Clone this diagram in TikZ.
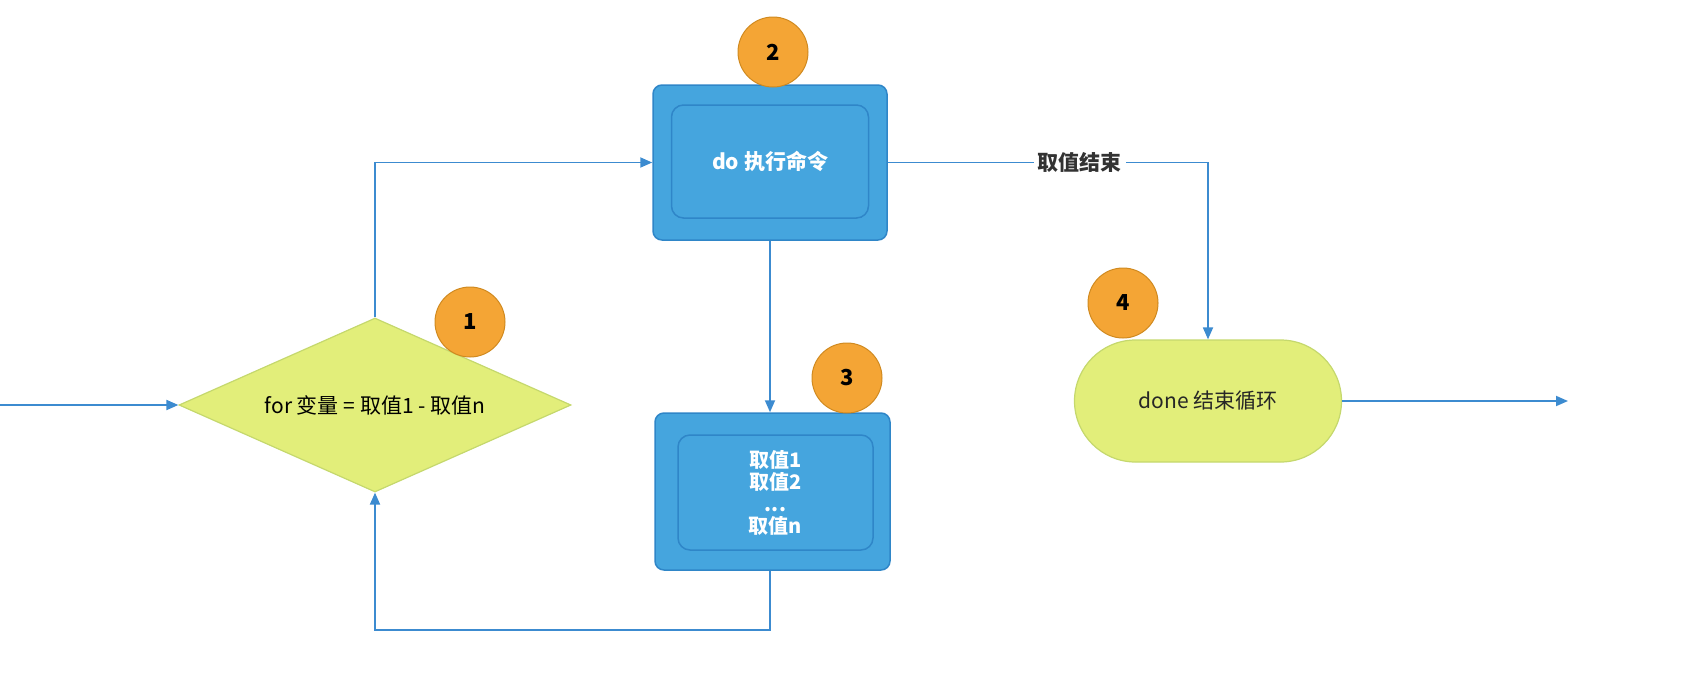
\documentclass[tikz,border=0pt]{standalone}
\usepackage{fontspec}
\setmainfont{Noto Sans CJK SC}
\usetikzlibrary{shapes.geometric,shapes.misc,arrows.meta}
\definecolor{ln}{HTML}{3C8BD0}
\definecolor{yg}{HTML}{E2EE7A}
\definecolor{ygb}{HTML}{C5D86D}
\definecolor{bl}{HTML}{45A5DE}
\definecolor{blb}{HTML}{2F86C8}
\definecolor{org}{HTML}{F4A535}
\definecolor{orgb}{HTML}{D08A20}
\begin{document}
\begin{tikzpicture}[x=1pt,y=-1pt,
  conn/.style={ln,line width=1.8pt,-{Triangle[length=12pt,width=10pt]}},
  box/.style={fill=bl,draw=blb,line width=1.5pt,rounded corners=9pt,inner sep=0pt},
  inner/.style={draw=blb,line width=1.5pt,rounded corners=12pt,inner sep=0pt,
    font=\fontsize{21}{25}\selectfont\bfseries,text=white,align=center},
  num/.style={circle,fill=org,draw=orgb,line width=1pt,minimum size=70pt,inner sep=0pt,font=\fontsize{22}{25}\selectfont\bfseries}]
\useasboundingbox (0,0) rectangle (1698,694);
\node[diamond,fill=yg,draw=ygb,line width=1.2pt,minimum width=392pt,minimum height=174pt,aspect=2.25,inner sep=0pt,font=\fontsize{21}{25}\selectfont] (d) at (375,405) {for 变量 = 取值1 - 取值n};
\node[box,minimum width=234pt,minimum height=155pt] (b2) at (770,162.5) {};
\node[inner,minimum width=197pt,minimum height=113pt] (b2i) at (770,161.5) {do 执行命令};
\node[box,minimum width=235pt,minimum height=157pt] (b3) at (772.5,491.5) {};
\node[inner,minimum width=195pt,minimum height=115pt,font=\fontsize{20}{22}\selectfont\bfseries] (b3i) at (775.5,492.5) {取值1\\取值2\\...\\取值n};
\node[rounded rectangle,fill=yg,draw=ygb,line width=1.2pt,minimum width=267pt,minimum height=122pt,inner sep=0pt,font=\fontsize{21}{25}\selectfont,text=black!85] (p) at (1208,401) {done 结束循环};
\node[num] (n1) at (470,322) {1};
\node[num] (n2) at (773,52) {2};
\node[num] (n3) at (847,378) {3};
\node[num] (n4) at (1123,303) {4};
\coordinate (s) at (0,405);
\coordinate (e) at (1568,401);
\coordinate (lp) at (375,630);
\draw[conn] (s) -- (d.west);
\draw[conn] (d.north) |- (b2.west);
\draw[conn] (b2.south) -- (b2.south |- b3.north);
\draw[conn] (b3.south -| b2.south) |- (lp) -- (d.south);
\draw[conn] (b2.east) -| node[fill=white,font=\fontsize{21}{25}\selectfont\bfseries,text=black!80,inner sep=4pt,pos=0.3]{取值结束} (p.north);
\draw[conn] (p.east) -- (e);
\end{tikzpicture}
\end{document}
